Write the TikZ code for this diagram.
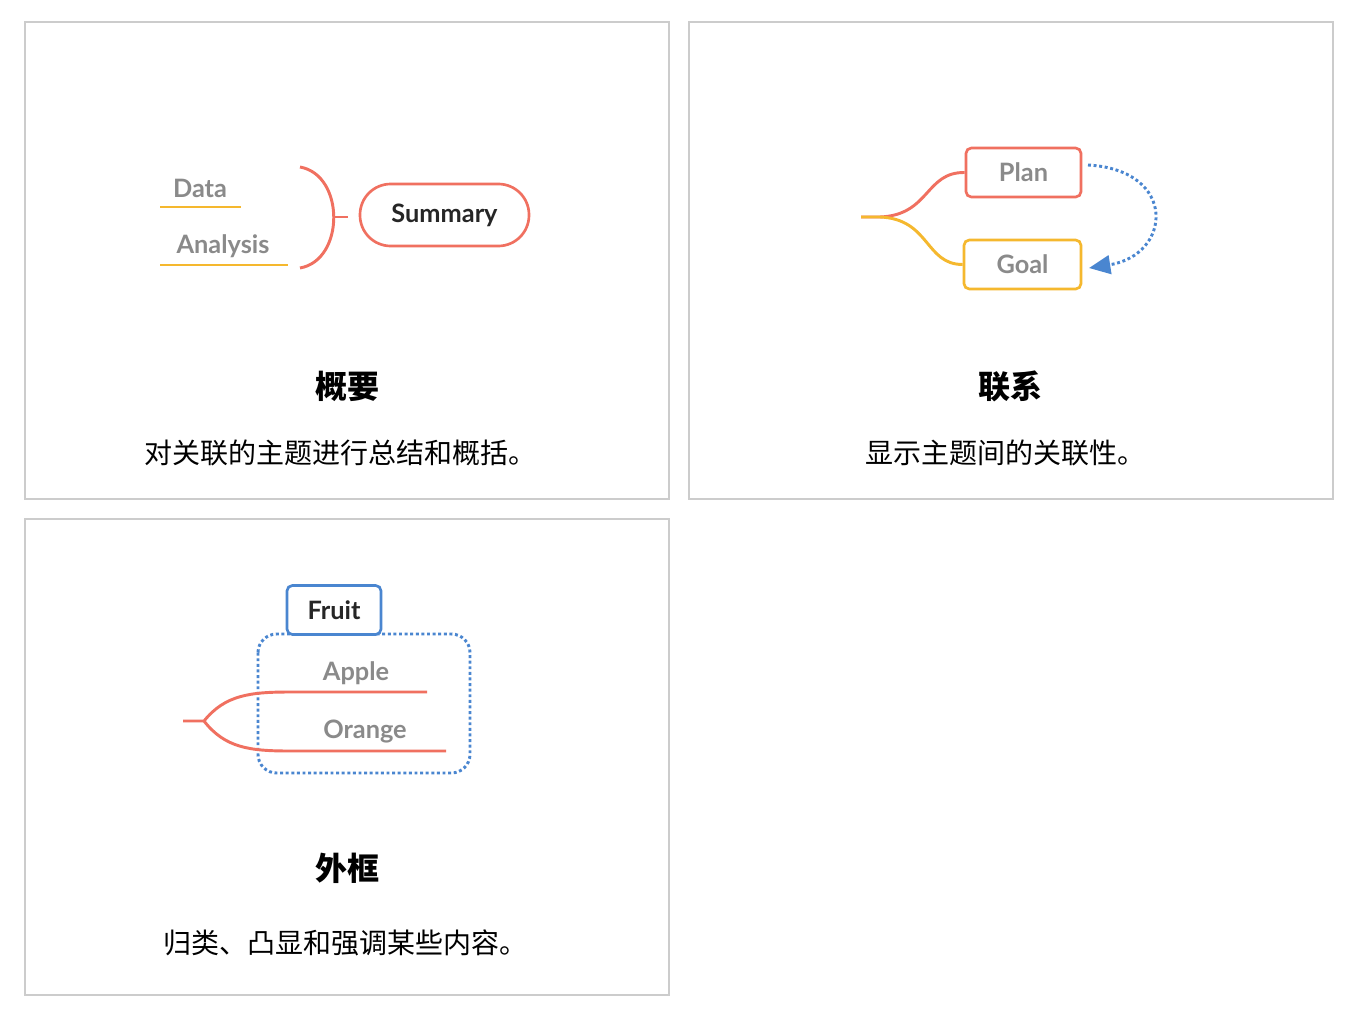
\documentclass[tikz,border=0pt]{standalone}
\usepackage{fontspec}
\setmainfont{Lato}
\newfontfamily\cjk{Noto Sans CJK SC}
\usetikzlibrary{arrows.meta}
\definecolor{rd}{HTML}{F07060}
\definecolor{yl}{HTML}{F5B82E}
\definecolor{bl}{HTML}{4A86D0}
\definecolor{gt}{HTML}{8A8A8A}
\definecolor{pb}{HTML}{CCCCCC}
\begin{document}
\begin{tikzpicture}[x=0.75pt,y=-0.75pt,
 panel/.style={draw=pb,line width=0.8pt},
 ln/.style={line width=2.2pt},
 lbl/.style={text=gt,font=\bfseries\fontsize{19}{22}\selectfont},
 ttl/.style={font=\cjk\bfseries\fontsize{24}{28}\selectfont},
 dsc/.style={font=\cjk\fontsize{21}{25}\selectfont},
 bx/.style={draw,rounded corners=4pt,line width=2pt,minimum height=36.75pt,inner sep=0pt}]
\useasboundingbox (0,0) rectangle (1360,1024);
\fill[white] (0,0) rectangle (1360,1024);
\draw[panel] (25,22) rectangle (669,499);
\draw[panel] (689,22) rectangle (1333,499);
\draw[panel] (25,519) rectangle (669,995);
% panel 1
\node[lbl] (d) at (200,188) {Data};
\node[lbl] (a) at (223,246) {Analysis};
\draw[yl,ln] (160,207) -- (241,207);
\draw[yl,ln] (160,265) -- (288,265);
\draw[rd,ln] (300,167) .. controls (345,175) and (345,260) .. (300,268);
\draw[rd,ln] (333,217) -- (348,217);
\node[bx,draw=rd,rounded corners=23pt,minimum width=126.75pt,minimum height=46.5pt,font=\bfseries\fontsize{19}{22}\selectfont,text=black!85] (s) at (444.5,215) {Summary};
\node[ttl] (t1) at (347,386) {概要};
\node[dsc] (d1) at (340,453) {对关联的主题进行总结和概括。};
% panel 2
\node[bx,draw=rd,minimum width=86.25pt,lbl] (p) at (1023.5,172.5) {Plan};
\node[bx,draw=yl,minimum width=87.75pt,lbl] (g) at (1022.5,264.5) {Goal};
\coordinate (r) at (861,217);
\draw[rd,ln] (r) -- (880,217) .. controls (930,215) and (925,172) .. (p.west);
\draw[yl,ln] (r) -- (880,217) .. controls (930,219) and (925,264.5) .. (g.west);
\draw[bl,ln,dotted,-{Triangle[length=16pt,width=14pt]}] (1088,165) .. controls (1178,170) and (1172,255) .. (1089,268);
\node[ttl] (t2) at (1010,386) {联系};
\node[dsc] (d2) at (1005,453) {显示主题间的关联性。};
% panel 3
\draw[bl,ln,dotted,rounded corners=14pt] (258,634) rectangle (470,773);
\node[bx,draw=bl,fill=white,minimum width=70.5pt,font=\bfseries\fontsize{19}{22}\selectfont,text=black!85] (f) at (334,610) {Fruit};
\node[lbl] (ap) at (356,673) {Apple};
\node[lbl] (or) at (365,732) {Orange};
\coordinate (c) at (183,721);
\draw[rd,ln] (c) -- (204,721) .. controls (225,695) and (250,692) .. (290,692) -- (427,692);
\draw[rd,ln] (204,721) .. controls (225,748) and (250,751) .. (290,751) -- (446,751);
\node[ttl] (t3) at (347,868) {外框};
\node[dsc] (d3) at (345,943) {归类、凸显和强调某些内容。};
\end{tikzpicture}
\end{document}
